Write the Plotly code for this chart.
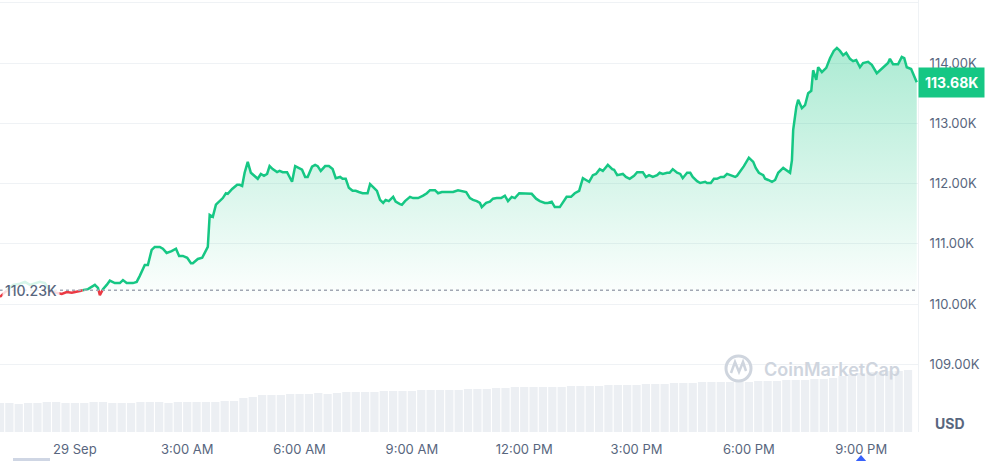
import plotly.graph_objects as go
import pandas as pd

# ---------------- data ----------------
times = [
    "2025-09-28 22:00", "2025-09-28 22:08", "2025-09-28 22:21", "2025-09-28 22:32", "2025-09-28 22:40",
    "2025-09-28 22:48", "2025-09-28 22:56", "2025-09-28 23:04", "2025-09-28 23:12", "2025-09-28 23:20",
    "2025-09-28 23:30", "2025-09-28 23:39", "2025-09-28 23:47", "2025-09-28 23:55",
    "2025-09-29 00:08", "2025-09-29 00:21", "2025-09-29 00:32", "2025-09-29 00:37", "2025-09-29 00:40",
    "2025-09-29 00:45", "2025-09-29 00:51", "2025-09-29 00:56", "2025-09-29 01:04", "2025-09-29 01:12",
    "2025-09-29 01:17", "2025-09-29 01:23", "2025-09-29 01:33", "2025-09-29 01:39", "2025-09-29 01:44",
    "2025-09-29 01:52", "2025-09-29 01:57", "2025-09-29 02:03", "2025-09-29 02:08", "2025-09-29 02:16",
    "2025-09-29 02:21", "2025-09-29 02:27", "2025-09-29 02:35", "2025-09-29 02:42", "2025-09-29 02:47",
    "2025-09-29 02:53", "2025-09-29 03:00", "2025-09-29 03:06", "2025-09-29 03:09", "2025-09-29 03:17",
    "2025-09-29 03:24", "2025-09-29 03:28", "2025-09-29 03:33", "2025-09-29 03:36", "2025-09-29 03:41",
    "2025-09-29 03:46", "2025-09-29 03:52", "2025-09-29 03:57", "2025-09-29 04:02", "2025-09-29 04:05",
    "2025-09-29 04:12", "2025-09-29 04:20", "2025-09-29 04:24", "2025-09-29 04:28", "2025-09-29 04:32",
    "2025-09-29 04:37", "2025-09-29 04:42", "2025-09-29 04:48", "2025-09-29 04:53", "2025-09-29 04:58",
    "2025-09-29 05:03", "2025-09-29 05:08", "2025-09-29 05:12", "2025-09-29 05:17", "2025-09-29 05:24",
    "2025-09-29 05:28", "2025-09-29 05:33", "2025-09-29 05:40", "2025-09-29 05:48", "2025-09-29 05:53",
    "2025-09-29 05:59", "2025-09-29 06:04", "2025-09-29 06:09", "2025-09-29 06:13", "2025-09-29 06:20",
    "2025-09-29 06:25", "2025-09-29 06:29", "2025-09-29 06:34", "2025-09-29 06:41", "2025-09-29 06:47",
    "2025-09-29 06:53", "2025-09-29 06:58", "2025-09-29 07:05", "2025-09-29 07:09", "2025-09-29 07:14",
    "2025-09-29 07:19", "2025-09-29 07:25", "2025-09-29 07:30", "2025-09-29 07:35", "2025-09-29 07:41",
    "2025-09-29 07:49", "2025-09-29 07:53", "2025-09-29 07:58", "2025-09-29 08:04", "2025-09-29 08:09",
    "2025-09-29 08:14", "2025-09-29 08:18", "2025-09-29 08:23", "2025-09-29 08:30", "2025-09-29 08:34",
    "2025-09-29 08:41", "2025-09-29 08:44", "2025-09-29 08:49", "2025-09-29 08:57", "2025-09-29 09:02",
    "2025-09-29 09:10", "2025-09-29 09:18", "2025-09-29 09:24", "2025-09-29 09:29", "2025-09-29 09:37",
    "2025-09-29 09:42", "2025-09-29 09:48", "2025-09-29 09:56", "2025-09-29 10:06", "2025-09-29 10:14",
    "2025-09-29 10:20", "2025-09-29 10:27", "2025-09-29 10:33", "2025-09-29 10:38", "2025-09-29 10:44",
    "2025-09-29 10:49", "2025-09-29 10:52", "2025-09-29 10:59", "2025-09-29 11:05", "2025-09-29 11:10",
    "2025-09-29 11:16", "2025-09-29 11:23", "2025-09-29 11:29", "2025-09-29 11:34", "2025-09-29 11:40",
    "2025-09-29 11:45", "2025-09-29 11:52", "2025-09-29 11:58", "2025-09-29 12:06", "2025-09-29 12:12",
    "2025-09-29 12:19", "2025-09-29 12:25", "2025-09-29 12:33", "2025-09-29 12:38", "2025-09-29 12:44",
    "2025-09-29 12:49", "2025-09-29 12:57", "2025-09-29 13:02", "2025-09-29 13:08", "2025-09-29 13:15",
    "2025-09-29 13:21", "2025-09-29 13:28", "2025-09-29 13:34", "2025-09-29 13:39", "2025-09-29 13:44",
    "2025-09-29 13:50", "2025-09-29 13:55", "2025-09-29 14:01", "2025-09-29 14:06", "2025-09-29 14:14",
    "2025-09-29 14:21", "2025-09-29 14:24", "2025-09-29 14:29", "2025-09-29 14:38", "2025-09-29 14:43",
    "2025-09-29 14:49", "2025-09-29 14:56", "2025-09-29 15:01", "2025-09-29 15:05", "2025-09-29 15:10",
    "2025-09-29 15:15", "2025-09-29 15:20", "2025-09-29 15:26", "2025-09-29 15:33", "2025-09-29 15:37",
    "2025-09-29 15:42", "2025-09-29 15:49", "2025-09-29 15:53", "2025-09-29 15:58", "2025-09-29 16:05",
    "2025-09-29 16:10", "2025-09-29 16:14", "2025-09-29 16:21", "2025-09-29 16:26", "2025-09-29 16:30",
    "2025-09-29 16:37", "2025-09-29 16:42", "2025-09-29 16:50", "2025-09-29 16:53", "2025-09-29 16:59",
    "2025-09-29 17:04", "2025-09-29 17:09", "2025-09-29 17:15", "2025-09-29 17:20", "2025-09-29 17:25",
    "2025-09-29 17:31", "2025-09-29 17:38", "2025-09-29 17:41", "2025-09-29 17:47", "2025-09-29 17:52",
    "2025-09-29 18:00", "2025-09-29 18:07", "2025-09-29 18:11", "2025-09-29 18:16", "2025-09-29 18:23",
    "2025-09-29 18:26", "2025-09-29 18:31", "2025-09-29 18:37", "2025-09-29 18:42", "2025-09-29 18:47",
    "2025-09-29 18:55", "2025-09-29 19:01", "2025-09-29 19:06", "2025-09-29 19:09", "2025-09-29 19:11",
    "2025-09-29 19:16", "2025-09-29 19:19", "2025-09-29 19:25", "2025-09-29 19:30", "2025-09-29 19:35",
    "2025-09-29 19:40", "2025-09-29 19:43", "2025-09-29 19:48", "2025-09-29 19:51", "2025-09-29 19:57",
    "2025-09-29 20:04", "2025-09-29 20:10", "2025-09-29 20:16", "2025-09-29 20:21", "2025-09-29 20:26",
    "2025-09-29 20:31", "2025-09-29 20:36", "2025-09-29 20:42", "2025-09-29 20:47", "2025-09-29 20:52",
    "2025-09-29 20:58", "2025-09-29 21:03", "2025-09-29 21:11", "2025-09-29 21:17", "2025-09-29 21:25",
    "2025-09-29 21:32", "2025-09-29 21:38", "2025-09-29 21:43", "2025-09-29 21:46", "2025-09-29 21:51",
    "2025-09-29 21:59", "2025-09-29 22:05", "2025-09-29 22:09", "2025-09-29 22:13", "2025-09-29 22:20",
    "2025-09-29 22:23", "2025-09-29 22:29",
]

prices = [
    110120, 110200, 110320, 110340, 110370, 110320, 110340, 110370, 110350, 110220,
    110190, 110170, 110200, 110190,
    110220, 110250, 110320, 110270, 110150, 110250, 110320, 110390, 110350, 110350,
    110400, 110350, 110350, 110370, 110470, 110650, 110650, 110900, 110950, 110950,
    110920, 110850, 110880, 110920, 110800, 110800, 110770, 110680, 110680, 110750,
    110770, 110850, 110950, 111480, 111450, 111650, 111710, 111760, 111840, 111830,
    111910, 111980, 111980, 111960, 112180, 112360, 112180, 112130, 112080, 112160,
    112130, 112160, 112290, 112240, 112190, 112210, 112190, 112190, 112030, 112290,
    112260, 112230, 112110, 112110, 112280, 112310, 112290, 112210, 112290, 112290,
    112240, 112090, 112110, 112080, 112080, 111930, 111880, 111880, 111860, 111840,
    111840, 111990, 111940, 111880, 111730, 111680, 111730, 111710, 111780, 111700,
    111660, 111650, 111710, 111780, 111760, 111760, 111800, 111840, 111890, 111890,
    111840, 111860, 111860, 111860, 111890, 111880, 111860, 111760, 111730, 111710,
    111680, 111610, 111680, 111700, 111750, 111760, 111760, 111800, 111710, 111780,
    111760, 111840, 111840, 111830, 111830, 111750, 111710, 111680, 111680, 111700,
    111610, 111610, 111680, 111780, 111780, 111840, 111880, 112090, 112060, 112030,
    112140, 112160, 112240, 112210, 112310, 112240, 112230, 112140, 112160, 112110,
    112080, 112130, 112190, 112190, 112190, 112110, 112140, 112110, 112140, 112180,
    112160, 112180, 112180, 112240, 112180, 112160, 112090, 112180, 112180, 112110,
    112040, 112010, 112030, 112010, 112010, 112080, 112080, 112110, 112110, 112160,
    112140, 112110, 112130, 112210, 112290, 112430, 112360, 112260, 112180, 112140,
    112080, 112060, 112030, 112060, 112180, 112260, 112210, 112180, 112390, 112890,
    113270, 113390, 113250, 113300, 113500, 113540, 113880, 113720, 113930, 113850,
    113920, 114080, 114200, 114250, 114200, 114130, 114170, 114070, 114030, 114050,
    113930, 114000, 114020, 113970, 113830, 113900, 113950, 114000, 114070, 113980,
    113980, 114100, 114080, 113930, 113900, 113830, 113680,
]

open_price = 110230
last_price = 113680

# 24h volume (billion USD), 15-minute bars starting 28 Sep 22:00
vol_start = "2025-09-28 22:00"
volumes = [
    29, 29, 28, 29, 29, 30, 30, 29, 29, 29, 30, 30, 29, 29, 29, 30, 30, 30, 29, 30,
    30, 30, 30, 30, 31, 31, 34, 35, 37, 37, 37, 38, 38, 38, 39, 38, 39, 40, 40, 40,
    40, 41, 41, 41, 41, 42, 42, 42, 42, 42, 43, 43, 43, 44, 44, 45, 45, 45, 45, 45,
    45, 46, 46, 46, 46, 47, 47, 47, 47, 48, 48, 48, 49, 49, 49, 50, 50, 50, 50, 50,
    50, 51, 51, 51, 52, 52, 52, 53, 53, 54, 56, 58, 59, 60, 60, 61, 61, 62,
]

tick_vals = ["2025-09-29 00:00", "2025-09-29 03:00", "2025-09-29 06:00", "2025-09-29 09:00",
             "2025-09-29 12:00", "2025-09-29 15:00", "2025-09-29 18:00", "2025-09-29 21:00"]
tick_text = ["29 Sep", "3:00 AM", "6:00 AM", "9:00 AM", "12:00 PM", "3:00 PM", "6:00 PM", "9:00 PM"]

price_ticks = [109000, 110000, 111000, 112000, 113000, 114000, 115000]
price_text = ["109.00K", "110.00K", "111.00K", "112.00K", "113.00K", "114.00K", ""]

# ---------------- styling ----------------
GREEN = "#16c784"
RED = "#ea3943"
GREY = "#58667e"
FONT = "Inter"

t = pd.to_datetime(times)
vol_t = pd.date_range(vol_start, periods=len(volumes), freq="15min")

# split line into green (>= open) and red (< open) pieces, with crossing points
pts = []
for i in range(len(t)):
    if i > 0:
        p0, p1 = prices[i - 1], prices[i]
        if (p0 - open_price) * (p1 - open_price) < 0:
            f = (open_price - p0) / (p1 - p0)
            pts.append((t[i - 1] + (t[i] - t[i - 1]) * f, open_price, "x"))
    pts.append((t[i], prices[i], "g" if prices[i] >= open_price else "r"))

px_ = [p[0] for p in pts]
g_y = [p[1] if p[2] in ("g", "x") else None for p in pts]
r_y = [p[1] if p[2] in ("r", "x") else None for p in pts]

fig = go.Figure()

fig.add_trace(go.Bar(
    x=vol_t, y=volumes, yaxis="y2", marker=dict(color="#eceff3", line=dict(width=0)),
    hoverinfo="skip", showlegend=False,
))

fig.add_trace(go.Scatter(
    x=t, y=prices, mode="lines", line=dict(width=0), fill="tozeroy",
    fillgradient=dict(type="vertical",
                      colorscale=[[0, "rgba(22,199,132,0)"], [1, "rgba(22,199,132,0.36)"]],
                      start=110000, stop=114300),
    hoverinfo="skip", showlegend=False,
))

fig.add_trace(go.Scatter(x=px_, y=g_y, mode="lines", line=dict(color=GREEN, width=2.5),
                         connectgaps=False, hoverinfo="skip", showlegend=False))
fig.add_trace(go.Scatter(x=px_, y=r_y, mode="lines", line=dict(color=RED, width=2.5),
                         connectgaps=False, hoverinfo="skip", showlegend=False))

fig.add_shape(type="line", xref="paper", x0=0, x1=1, yref="y", y0=open_price, y1=open_price,
              line=dict(color="#a1a7b3", width=1.5, dash="dot"), layer="above")

# labels
fig.add_annotation(x=0, xref="paper", xanchor="left", y=open_price, yref="y", yanchor="middle",
                   text="110.23K", showarrow=False, xshift=2,
                   font=dict(family=FONT, size=14, color=GREY, weight=500),
                   bgcolor="rgba(255,255,255,0.82)", borderpad=2)

fig.add_annotation(x=1, xref="paper", xanchor="left", y=last_price, yref="y", yanchor="middle",
                   text="<b>113.68K</b>", showarrow=False,
                   font=dict(family=FONT, size=14, color="white"),
                   bgcolor=GREEN, borderpad=6)

fig.add_annotation(x=933 / 918, xref="paper", xanchor="left", y=1 - 423 / 432, yref="paper",
                   yanchor="middle", text="<b>USD</b>", showarrow=False,
                   font=dict(family=FONT, size=14, color=GREY))

# watermark
fig.add_annotation(x=762 / 918, xref="paper", xanchor="left", y=1 - 369 / 432, yref="paper",
                   yanchor="middle", text="CoinMarketCap", showarrow=False,
                   font=dict(family=FONT, size=18, color="#cfd5de", weight=600))
fig.add_shape(type="circle", xref="paper", yref="paper",
              x0=726 / 918, x1=751 / 918, y0=1 - 381 / 432, y1=1 - 356 / 432,
              line=dict(color="#cfd5de", width=3))


def pp(x, y):
    return f"{x / 918:.5f},{1 - y / 432:.5f}"


fig.add_shape(type="path", xref="paper", yref="paper",
              path="M" + pp(731, 373) + " L" + pp(735, 362) + " L" + pp(739, 372)
                   + " L" + pp(743, 362) + " L" + pp(746, 371),
              line=dict(color="#cfd5de", width=2.5))

# small bottom UI bits
fig.add_shape(type="rect", xref="paper", yref="paper",
              x0=13 / 918, x1=50 / 918, y0=1 - 461 / 432, y1=1 - 458 / 432,
              line=dict(width=0), fillcolor="#cfd6e4")
fig.add_shape(type="path", xref="paper", yref="paper",
              path="M" + pp(855, 462) + " L" + pp(861, 455) + " L" + pp(867, 462) + " Z",
              line=dict(width=0), fillcolor="#3861fb")

fig.update_layout(
    width=986, height=461,
    margin=dict(l=0, r=68, t=0, b=29),
    paper_bgcolor="white", plot_bgcolor="white",
    showlegend=False, hovermode=False,
    bargap=0.12,
    xaxis=dict(range=["2025-09-28 22:00", "2025-09-29 22:31"], showgrid=False, zeroline=False,
               tickmode="array", tickvals=tick_vals, ticktext=tick_text,
               tickfont=dict(family=FONT, size=13, color=GREY), ticks="", ticklabelstandoff=8,
               showline=False),
    yaxis=dict(range=[107880, 115045], side="right", tickmode="array", tickvals=price_ticks,
               ticktext=price_text, showgrid=True, gridcolor="#eff2f5", gridwidth=1,
               zeroline=False, ticks="", ticklabelstandoff=8,
               tickfont=dict(family=FONT, size=13, color=GREY),
               showline=True, linecolor="#eff2f5", linewidth=1),
    yaxis2=dict(range=[0, 432], overlaying="y", visible=False, fixedrange=True),
)

fig.write_html(
    "out.html",
    config={"displayModeBar": False, "staticPlot": True},
    post_script="document.body.style.margin='0';document.body.style.overflow='hidden';",
)
